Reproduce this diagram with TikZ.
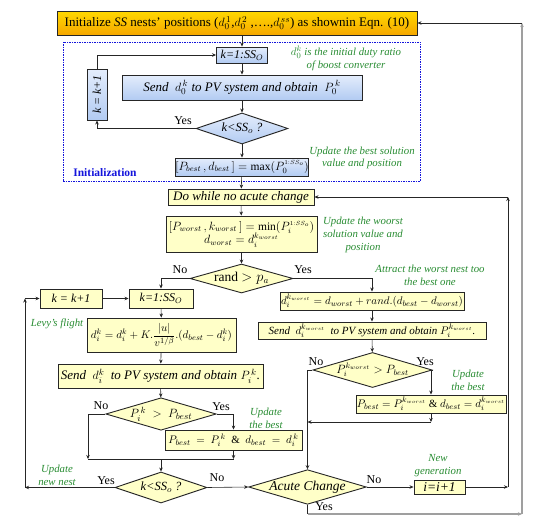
\documentclass[tikz,border=0pt]{standalone}
\usepackage{amsmath}
\usepackage{graphicx}
\usepackage{fontspec}
\setmainfont{Liberation Serif}
\usetikzlibrary{shapes.geometric,arrows.meta}
\definecolor{yfill}{RGB}{255,255,200}
\definecolor{gtext}{RGB}{40,140,50}
\definecolor{bluet}{RGB}{20,20,220}
\definecolor{bluetop}{RGB}{228,237,252}
\definecolor{bluebot}{RGB}{178,203,242}
\definecolor{orgtop}{RGB}{255,216,0}
\definecolor{orgbot}{RGB}{246,168,0}
\tikzset{
  bx/.style={draw=black!85, line width=0.9pt, inner sep=1pt, align=center, font=\fontsize{12}{13.5}\selectfont},
  ybox/.style={bx, fill=yfill},
  bbox/.style={bx, top color=bluetop, bottom color=bluebot},
  obox/.style={bx, top color=orgtop, bottom color=orgbot},
  ydia/.style={diamond, draw=black!85, line width=0.9pt, fill=yfill, inner sep=0pt, aspect=3.4, font=\fontsize{12.5}{14}\selectfont},
  bdia/.style={ydia, top color=bluetop, bottom color=bluebot},
  cmt/.style={text=gtext, font=\fontsize{10.8}{12.8}\selectfont\itshape, align=center, inner sep=0pt},
  lbl/.style={font=\fontsize{12}{13}\selectfont, inner sep=0pt},
  arr/.style={-{Stealth[length=4pt,width=3.5pt]}, line width=0.6pt, draw=black!85},
  ln/.style={line width=0.6pt, draw=black!85},
  gline/.style={line width=1.3pt, draw=gray!75}
}
\begin{document}
\begin{tikzpicture}[x=1pt,y=-1pt]
\useasboundingbox (0,0) rectangle (550,525);
% container
\node[draw=bluet, dash pattern=on 1.5pt off 1pt, line width=1pt, minimum width=357pt, minimum height=139pt, inner sep=0pt] (initbox) at (241.5,111.5) {};
\node[text=bluet, font=\fontsize{11.5}{13}\selectfont\bfseries] (initlbl) at (105,173) {Initialization};
% top
\node[obox, minimum width=360pt, minimum height=24pt, font=\fontsize{13}{14}\selectfont] (top) at (237,23) {Initialize \textit{SS} nests' positions ($d_0^{\,1}$,$d_0^{\,2}$ ,….,$d_0^{\,ss}$) as shownin Eqn. (10)};
\node[bbox, minimum width=51pt, minimum height=16pt] (k1a) at (242,55) {\itshape k=1:SS$_O$};
\node[bbox, minimum width=240pt, minimum height=25pt, font=\fontsize{13}{14}\selectfont] (send0) at (242,87.5) {\itshape Send \ $d_0^{\,k}$ to PV system and obtain \ $P_0^{\,k}$};
\node[bbox, minimum width=20pt, minimum height=51pt, inner sep=0pt] (kk1) at (97,94.5) {\rotatebox{90}{\itshape k = k+1}};
\node[bdia, minimum width=92pt, minimum height=31pt] (dk0) at (242,128.5) {\itshape k<SS$_o$ ?};
\node[bbox, minimum width=132pt, minimum height=18pt, inner sep=0pt, font=\fontsize{11.5}{13}\selectfont] (best) at (242,167) {$[P_{best}\,, d_{best}\,] = \max(P_0^{\scriptscriptstyle 1:SS_o})$};
% main loop
\node[ybox, minimum width=146pt, minimum height=16pt, font=\fontsize{13}{14}\selectfont] (dowhile) at (241,197) {\itshape Do while no acute change};
\node[ybox, minimum width=151pt, minimum height=36pt, inner sep=0pt, font=\fontsize{11.5}{13}\selectfont] (worst) at (241.5,234) {$[P_{worst}\,, k_{worst}\,] = \min(P_i^{\scriptscriptstyle 1:SS_o})$\\[-1pt] $d_{worst} = d_i^{k_{worst}}$};
\node[ydia, minimum width=103pt, minimum height=29pt, font=\fontsize{13.5}{14}\selectfont] (rand) at (241.5,278.5) {rand $> p_a$};
% left branch
\node[ybox, minimum width=62pt, minimum height=19pt] (kk2) at (71,298.5) {\itshape k = k+1};
\node[ybox, minimum width=64pt, minimum height=19pt] (k1b) at (161,298.5) {\itshape k=1:SS$_O$};
\node[ybox, minimum width=149pt, minimum height=34pt, font=\fontsize{11}{13}\selectfont] (levy) at (161.5,335) {$d_i^k = d_i^k + K.\dfrac{|u|}{v^{1/\beta}}.(d_{best} - d_i^k)$};
\node[ybox, minimum width=205pt, minimum height=24pt, font=\fontsize{13}{14}\selectfont] (send1) at (160.5,376) {\itshape Send \ $d_i^k$ \ to PV system and obtain $P_i^{\,k}$.};
\node[ydia, minimum width=102pt, minimum height=28pt] (dP) at (161,414) {$P_i^{\,k} \ > \ P_{best}$};
\node[ybox, minimum width=137pt, minimum height=20pt, font=\fontsize{11}{13}\selectfont] (pb1) at (233.5,440) {$P_{best} \ = \ P_i^{\,k}$ \ \& \ $d_{best} \ = \ d_i^{\,k}$};
\node[ydia, minimum width=92pt, minimum height=31pt] (kless) at (161,487.5) {\itshape k<SS$_o$ ?};
% right branch
\node[ybox, minimum width=176pt, minimum height=18pt, font=\fontsize{11}{13}\selectfont] (wupd) at (372,301) {$d_i^{k_{worst}} = d_{worst} + rand.(d_{best} - d_{worst})$};
\node[ybox, minimum width=228pt, minimum height=17pt, font=\fontsize{11}{13}\selectfont] (send2) at (372,330.5) {\itshape Send \ $d_i^{k_{worst}}$ \ to PV system and obtain $P_i^{k_{worst}}$.};
\node[ydia, minimum width=101pt, minimum height=34pt, font=\fontsize{11.5}{13}\selectfont] (dPw) at (372.5,370) {$P_i^{k_{worst}} > P_{best}$};
\node[ybox, minimum width=136pt, minimum height=18pt, font=\fontsize{11}{13}\selectfont] (pb2) at (431,404) {$P_{best} = P_i^{k_{worst}}$ \& $d_{best} = d_i^{k_{worst}}$};
\node[ydia, minimum width=117pt, minimum height=32pt, font=\fontsize{13.5}{14}\selectfont] (acute) at (307.5,487) {\itshape Acute Change};
\node[ybox, minimum width=51pt, minimum height=14pt, inner sep=0pt, font=\fontsize{13.5}{14}\selectfont] (inc) at (439.5,487) {\itshape i=i+1};
% comments
\node[cmt] (cm1) at (346,58) {$d_0^k$ is the initial duty ratio\\of boost converter};
\node[cmt] (cm2) at (362,158) {Update the best solution\\value and position};
\node[cmt] (cm3) at (363,235) {Update the woorst\\solution value and\\position};
\node[cmt] (cm4) at (430,275) {Attract the worst nest too\\the best one};
\node[cmt] (cm5) at (57,324) {Levy's flight};
\node[cmt] (cm6) at (266,418) {Update\\the best};
\node[cmt] (cm7) at (468,380) {Update\\the best};
\node[cmt] (cm8) at (57,475) {Update\\new nest};
\node[cmt] (cm9) at (438,466) {New\\generation};
% labels
\node[lbl] (l1) at (183,121) {Yes};
\node[lbl] (l2) at (180,270) {No};
\node[lbl] (l3) at (303,270) {Yes};
\node[lbl] (l4) at (101,406) {No};
\node[lbl] (l5) at (221,407) {Yes};
\node[lbl] (l6) at (106,481) {Yes};
\node[lbl] (l7) at (217,478) {No};
\node[lbl] (l8) at (316,362) {No};
\node[lbl] (l9) at (425,362) {Yes};
\node[lbl] (l10) at (374,480) {No};
\node[lbl] (l11) at (324,507) {Yes};
% coordinates
\coordinate (mL) at (88,459);
\coordinate (m2) at (431,422);
\coordinate (lb) at (25,487.5);
\coordinate (r1) at (508,487);
\coordinate (g0) at (307.5,514);
\coordinate (g1) at (522,514);
% initialization connectors
\draw[arr] (top.south -| k1a.north) -- (k1a.north);
\draw[arr] (k1a) -- (send0);
\draw[arr] (send0) -- (dk0);
\draw[arr] (dk0.west) -| (kk1.south);
\draw[arr] (kk1.north) |- (k1a.west);
\draw[arr] (dk0) -- (best);
\draw[arr] (best) -- (dowhile);
\draw[arr] (dowhile) -- (worst);
\draw[arr] (worst) -- (rand);
\draw[arr] (rand.west) -| (k1b.north);
\draw[arr] (rand.east) -| (wupd.north);
% left branch
\draw[arr] (kk2) -- (k1b);
\draw[arr] (k1b) -- (levy);
\draw[arr] (levy) -- (send1);
\draw[arr] (send1) -- (dP);
\draw[arr] (dP.west) -| (mL);
\draw[arr] (dP.east) -| (pb1.north);
\draw[arr] (pb1.south) -- (pb1.south |- mL);
\draw[ln] (mL) -- (pb1.south |- mL);
\draw[arr] (kless.north |- mL) -- (kless.north);
\draw[arr] (kless.west) -- (lb);
\draw[arr] (lb) -- (lb |- kk2.west);
\draw[arr] (lb |- kk2.west) -- (kk2.west);
\draw[arr] (kless.east) -- (acute.west);
% right branch
\draw[arr] (wupd) -- (send2);
\draw[arr] (send2) -- (dPw);
\draw[arr] (dPw.east) -| (pb2.north);
\draw[arr] (dPw.west) -| (acute.north);
\draw[arr] (pb2.south) -- (m2);
\draw[arr] (m2) -- (m2 -| acute.north);
\draw[arr] (acute.east) -- (inc.west);
\draw[arr] (inc.east) -- (r1);
\draw[arr] (r1) -- (r1 |- dowhile.east);
\draw[arr] (r1 |- dowhile.east) -- (dowhile.east);
% outer return
\draw[ln] (acute.south) -- (g0);
\draw[arr, gline] (g0) -- (g1);
\draw[arr, gline] (g1) -- (g1 |- top.east);
\draw[arr] (g1 |- top.east) -- (top.east);
\end{tikzpicture}
\end{document}
